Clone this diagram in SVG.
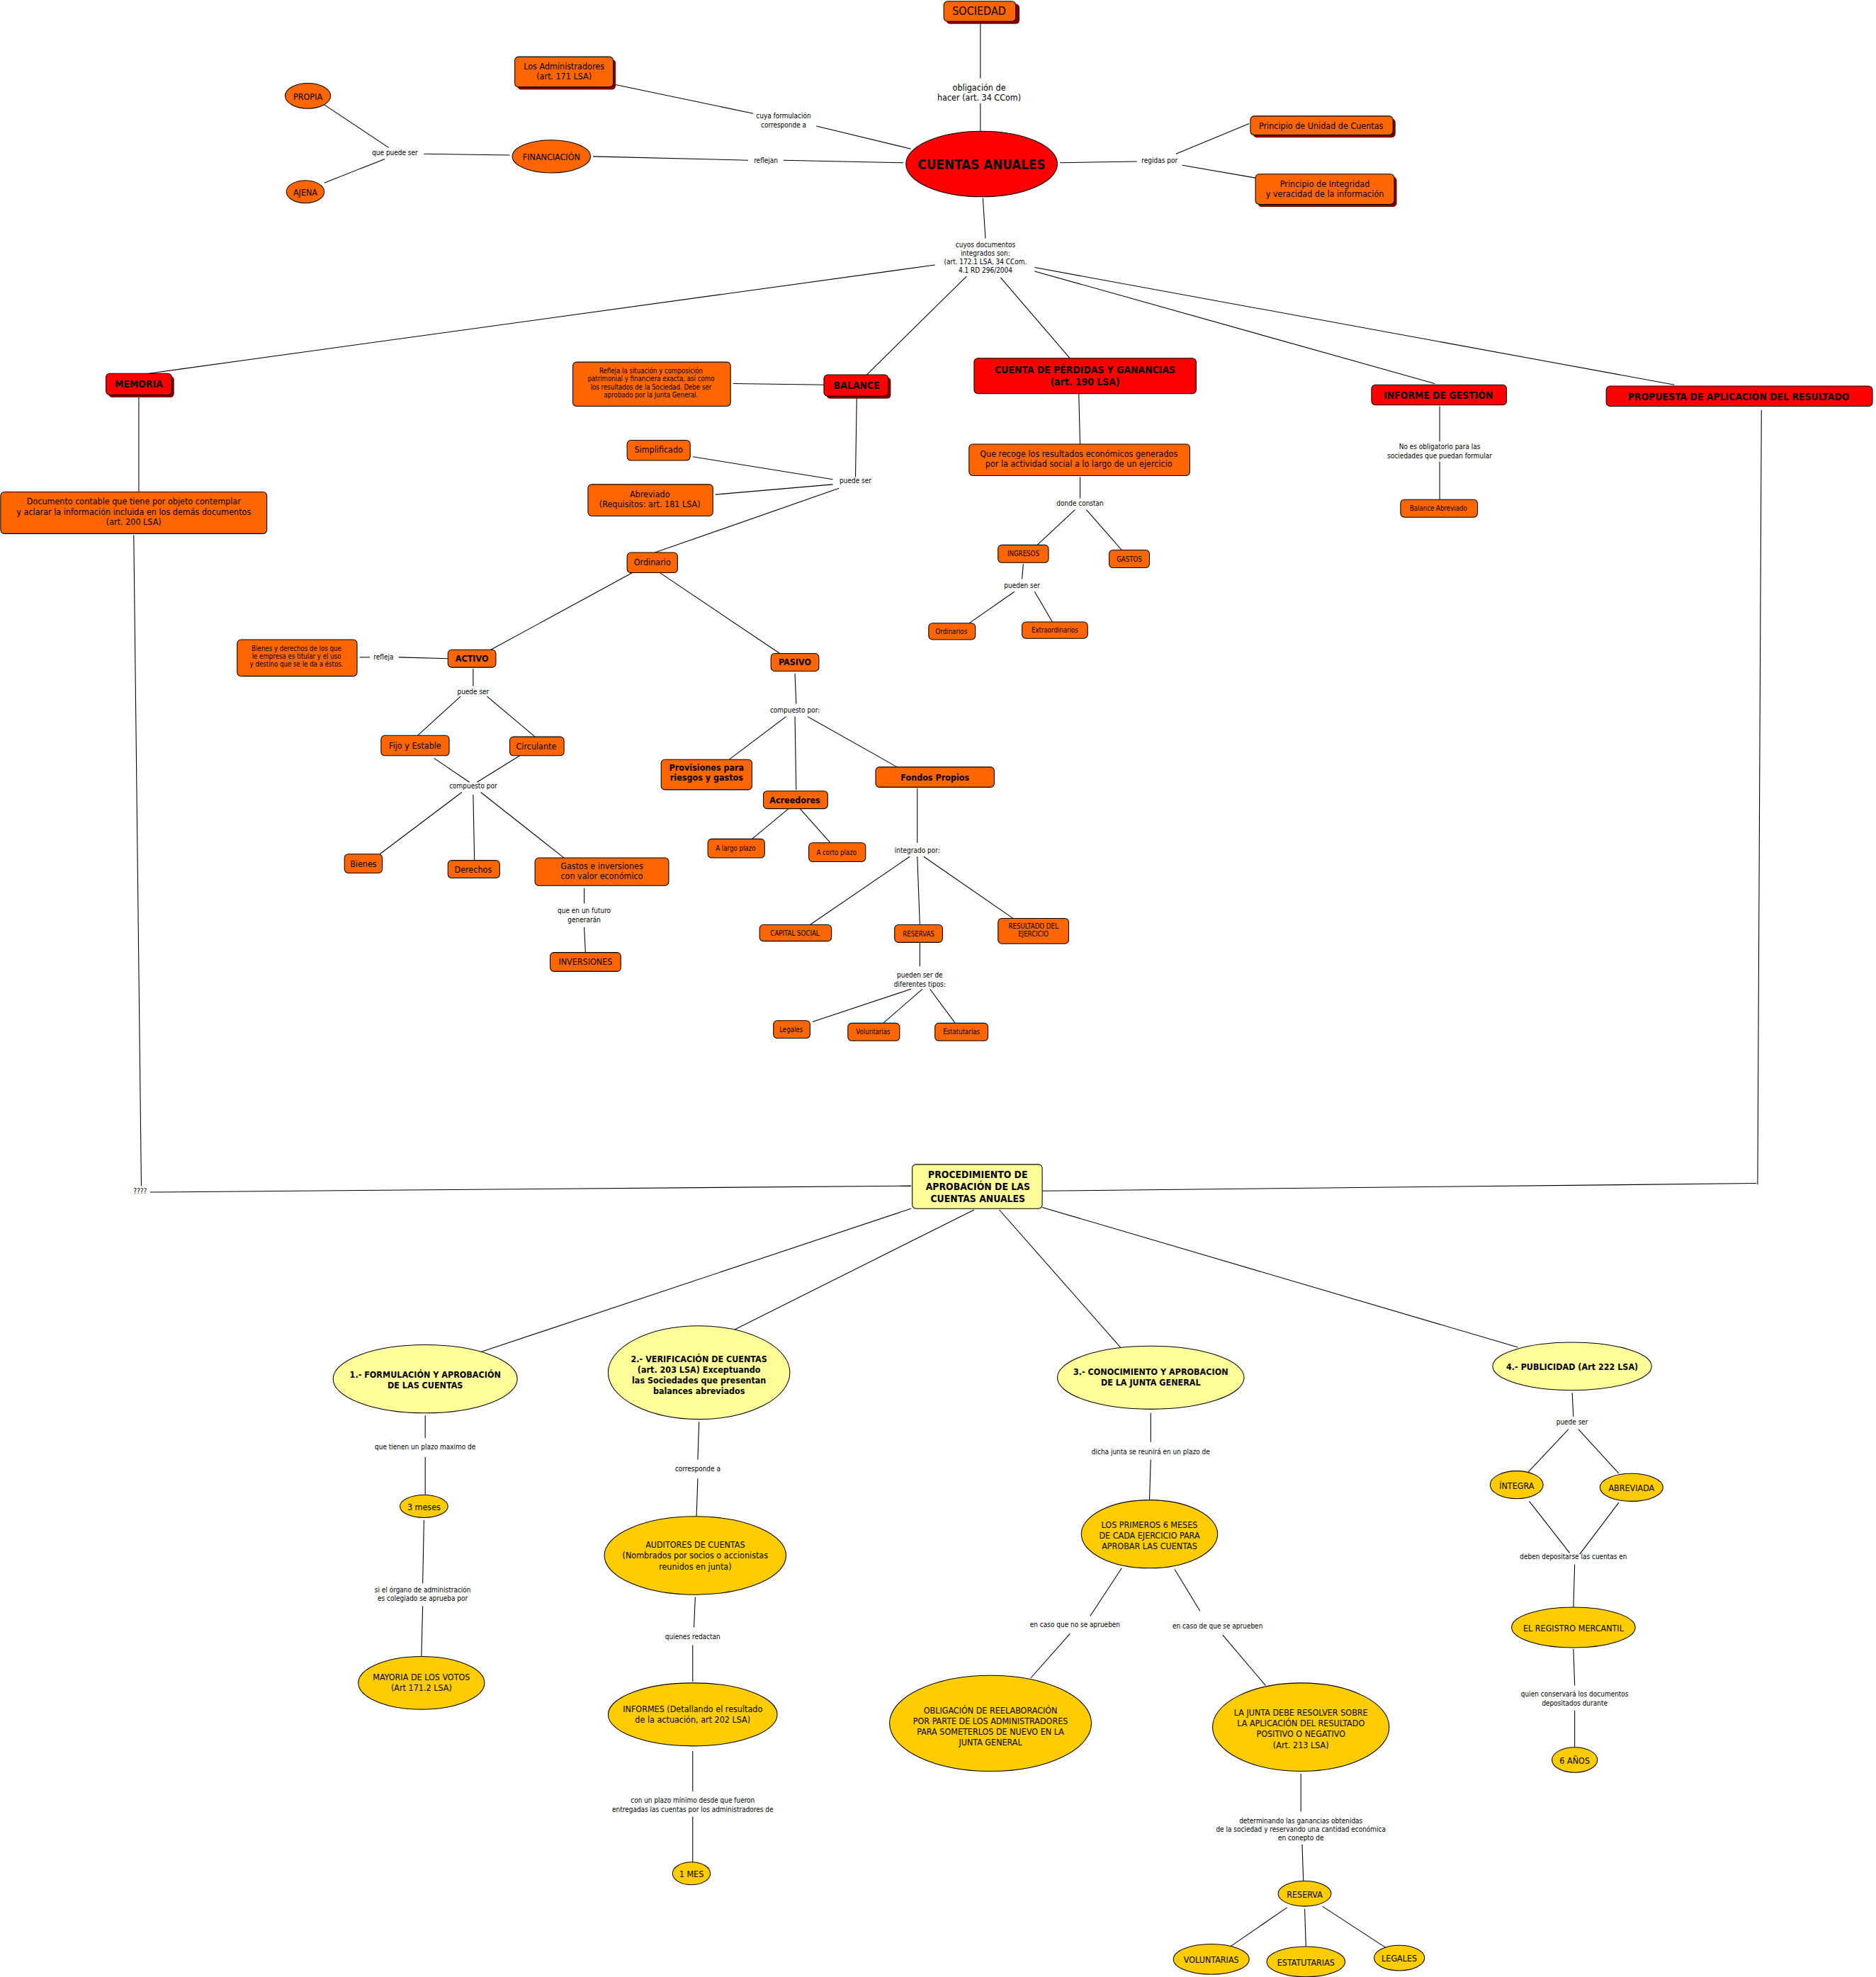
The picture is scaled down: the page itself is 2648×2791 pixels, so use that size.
<svg xmlns="http://www.w3.org/2000/svg" width="2648" height="2791" viewBox="0 0 2648 2791">
<defs>
<style>
text{font-family:"DejaVu Sans Condensed","DejaVu Sans",sans-serif;text-anchor:middle;fill:#000}
.o{fill:#ff6600;stroke:#000;stroke-width:0.6}
.r{fill:#ff0000;stroke:#000;stroke-width:0.6}
.y{fill:#ffff99;stroke:#000;stroke-width:0.6}
.g{fill:#ffcc00;stroke:#000;stroke-width:0.6}
.sh{fill:#800000}
.l{font-size:5.6px}
.n{font-size:7px}
.s{font-size:5.4px}
.b{font-weight:bold;font-size:7.8px}
.t{font-weight:bold;font-size:7px}
#conn line{stroke:#000;stroke-width:0.6}
</style>
</defs>
<rect width="2648" height="2791" fill="#fff"/>
<g transform="scale(1.781)">
<g id="conn">
<line x1="777" y1="17" x2="777" y2="62"/><line x1="777" y1="82" x2="777" y2="104"/>
<line x1="487" y1="67" x2="597" y2="90"/><line x1="647" y1="100" x2="722" y2="118"/>
<line x1="470" y1="124" x2="593" y2="127"/><line x1="621" y1="127" x2="716" y2="129"/>
<line x1="336" y1="122" x2="404" y2="123"/><line x1="257" y1="83" x2="308" y2="117"/><line x1="257" y1="145" x2="305" y2="126"/>
<line x1="840" y1="129" x2="901" y2="128"/><line x1="932" y1="122" x2="990" y2="98"/><line x1="937" y1="131" x2="995" y2="141"/>
<line x1="779" y1="157" x2="781" y2="189"/>
<line x1="741" y1="210" x2="118" y2="296"/><line x1="766" y1="219" x2="687" y2="297"/><line x1="793" y1="220" x2="848" y2="284"/>
<line x1="820" y1="215" x2="1137" y2="304"/><line x1="820" y1="212" x2="1327" y2="305"/>
<line x1="110" y1="313" x2="110" y2="390"/>
<line x1="106" y1="424" x2="112" y2="940"/><line x1="119" y1="945" x2="722" y2="940"/>
<line x1="581" y1="304" x2="653" y2="305"/>
<line x1="679" y1="315" x2="678" y2="378"/>
<line x1="549" y1="362" x2="660" y2="380"/><line x1="567" y1="392" x2="660" y2="384"/><line x1="665" y1="387" x2="519" y2="438"/>
<line x1="503" y1="453" x2="389" y2="515"/><line x1="523" y1="454" x2="618" y2="518"/>
<line x1="285" y1="521" x2="293" y2="521"/><line x1="316" y1="521" x2="355" y2="522"/>
<line x1="375" y1="530" x2="375" y2="544"/><line x1="365" y1="552" x2="331" y2="583"/><line x1="386" y1="552" x2="424" y2="584"/>
<line x1="344" y1="601" x2="372" y2="620"/><line x1="412" y1="599" x2="378" y2="620"/>
<line x1="366" y1="628" x2="301" y2="677"/><line x1="375" y1="630" x2="376" y2="682"/><line x1="381" y1="628" x2="447" y2="680"/>
<line x1="463" y1="704" x2="463" y2="716"/><line x1="463" y1="735" x2="464" y2="755"/>
<line x1="630" y1="534" x2="631" y2="558"/><line x1="623" y1="568" x2="578" y2="602"/><line x1="630" y1="568" x2="631" y2="626"/><line x1="640" y1="568" x2="711" y2="608"/>
<line x1="625" y1="641" x2="596" y2="665"/><line x1="634" y1="641" x2="658" y2="668"/>
<line x1="727" y1="625" x2="727" y2="668"/><line x1="721" y1="679" x2="642" y2="733"/><line x1="727" y1="679" x2="729" y2="733"/><line x1="732" y1="679" x2="803" y2="728"/>
<line x1="729" y1="747" x2="729" y2="766"/><line x1="722" y1="784" x2="644" y2="810"/><line x1="731" y1="784" x2="700" y2="811"/><line x1="737" y1="784" x2="757" y2="811"/>
<line x1="855" y1="312" x2="856" y2="352"/><line x1="856" y1="378" x2="856" y2="395"/>
<line x1="852" y1="404" x2="822" y2="432"/><line x1="861" y1="404" x2="889" y2="436"/>
<line x1="811" y1="447" x2="810" y2="459"/><line x1="804" y1="469" x2="768" y2="494"/><line x1="820" y1="469" x2="834" y2="493"/>
<line x1="1141" y1="322" x2="1141" y2="350"/><line x1="1141" y1="366" x2="1141" y2="396"/>
<line x1="1396" y1="325" x2="1393" y2="939"/><line x1="826" y1="944" x2="1392" y2="938"/>
<line x1="722" y1="958" x2="380" y2="1072"/><line x1="772" y1="959" x2="580" y2="1055"/><line x1="792" y1="959" x2="888" y2="1068"/><line x1="826" y1="957" x2="1203" y2="1068"/>
<line x1="337" y1="1122" x2="337" y2="1140"/><line x1="337" y1="1155" x2="337" y2="1185"/>
<line x1="336" y1="1205" x2="335" y2="1255"/><line x1="335" y1="1273" x2="334" y2="1313"/>
<line x1="554" y1="1127" x2="553" y2="1157"/><line x1="553" y1="1172" x2="552" y2="1202"/>
<line x1="551" y1="1266" x2="550" y2="1290"/><line x1="549" y1="1304" x2="549" y2="1333"/>
<line x1="549" y1="1388" x2="549" y2="1420"/><line x1="549" y1="1440" x2="549" y2="1476"/>
<line x1="912" y1="1120" x2="912" y2="1143"/><line x1="912" y1="1157" x2="911" y2="1189"/>
<line x1="889" y1="1243" x2="864" y2="1281"/><line x1="848" y1="1295" x2="817" y2="1330"/>
<line x1="931" y1="1244" x2="951" y2="1277"/><line x1="969" y1="1296" x2="1003" y2="1336"/>
<line x1="1031" y1="1406" x2="1031" y2="1436"/><line x1="1032" y1="1462" x2="1033" y2="1491"/>
<line x1="1020" y1="1512" x2="975" y2="1543"/><line x1="1034" y1="1513" x2="1035" y2="1543"/><line x1="1048" y1="1511" x2="1100" y2="1545"/>
<line x1="1246" y1="1104" x2="1247" y2="1123"/><line x1="1243" y1="1133" x2="1211" y2="1167"/><line x1="1251" y1="1133" x2="1283" y2="1168"/>
<line x1="1212" y1="1190" x2="1244" y2="1231"/><line x1="1283" y1="1191" x2="1252" y2="1232"/>
<line x1="1248" y1="1240" x2="1247" y2="1274"/><line x1="1247" y1="1307" x2="1248" y2="1336"/><line x1="1248" y1="1356" x2="1248" y2="1385"/>
</g>
<g id="labels">
<text class="n" x="776" y="72">obligación de<tspan x="776" dy="8">hacer (art. 34 CCom)</tspan></text>
<text class="l" x="621" y="94">cuya formulación<tspan x="621" dy="7">corresponde a</tspan></text>
<text class="l" x="607" y="129">reflejan</text>
<text class="l" x="313" y="123">que puede ser</text>
<text class="l" x="919" y="129">regidas por</text>
<text class="l" x="781" y="196">cuyos documentos<tspan x="781" dy="6.7">integrados son:</tspan><tspan x="781" dy="6.7">(art. 172.1 LSA, 34 CCom.</tspan><tspan x="781" dy="6.7">4.1 RD 296/2004</tspan></text>
<text class="l" x="111" y="946">????</text>
<text class="l" x="678" y="383">puede ser</text>
<text class="l" x="304" y="523">refleja</text>
<text class="l" x="375" y="550">puede ser</text>
<text class="l" x="375" y="625">compuesto por</text>
<text class="l" x="463" y="724">que en un futuro<tspan x="463" dy="7">generarán</tspan></text>
<text class="l" x="630" y="565">compuesto por:</text>
<text class="l" x="727" y="676">integrado por:</text>
<text class="l" x="729" y="775">pueden ser de<tspan x="729" dy="7">diferentes tipos:</tspan></text>
<text class="l" x="856" y="401">donde constan</text>
<text class="l" x="810" y="466">pueden ser</text>
<text class="l" x="1141" y="356">No es obligatorio para las<tspan x="1141" dy="7">sociedades que puedan formular</tspan></text>
<text class="l" x="337" y="1149">que tienen un plazo maximo de</text>
<text class="l" x="335" y="1262">si el órgano de administración<tspan x="335" dy="7">es colegiado se aprueba por</tspan></text>
<text class="l" x="553" y="1166">corresponde a</text>
<text class="l" x="549" y="1299">quienes redactan</text>
<text class="l" x="549" y="1429">con un plazo mínimo desde que fueron<tspan x="549" dy="7">entregadas las cuentas por los administradores de</tspan></text>
<text class="l" x="912" y="1153">dicha junta se reunirá en un plazo de</text>
<text class="l" x="852" y="1290">en caso que no se aprueben</text>
<text class="l" x="965" y="1291">en caso de que se aprueben</text>
<text class="l" x="1031" y="1445">determinando las ganancias obtenidas<tspan x="1031" dy="7">de la sociedad y reservando una cantidad económica</tspan><tspan x="1031" dy="7">en conepto de</tspan></text>
<text class="l" x="1246" y="1129">puede ser</text>
<text class="l" x="1247" y="1236">deben depositarse las cuentas en</text>
<text class="l" x="1248" y="1345">quien conservará los documentos<tspan x="1248" dy="7">depositados durante</tspan></text>
</g>
<g id="sociedad"><rect class="sh" x="750" y="3" width="58" height="16" rx="3"/><rect class="o" x="748" y="1" width="57" height="16" rx="3"/><text x="776" y="12" style="font-size:9px">SOCIEDAD</text></g>
<g id="cuentas"><ellipse class="r" cx="778" cy="130" rx="60" ry="26"/><text x="778" y="134" style="font-weight:bold;font-size:10.5px">CUENTAS ANUALES</text></g>
<g id="admin"><rect class="sh" x="410" y="47" width="78" height="24" rx="3"/><rect class="o" x="408" y="45" width="78" height="24" rx="3"/><text class="n" x="447" y="55">Los Administradores<tspan x="447" dy="8">(art. 171 LSA)</tspan></text></g>
<g id="financiacion"><ellipse class="o" cx="437" cy="124" rx="31" ry="13"/><text class="n" x="437" y="127">FINANCIACIÓN</text></g>
<g id="propia"><ellipse class="o" cx="244" cy="76" rx="18" ry="10"/><text class="n" x="244" y="79">PROPIA</text></g>
<g id="ajena"><ellipse class="o" cx="242" cy="152" rx="15" ry="9"/><text class="n" x="242" y="155">AJENA</text></g>
<g id="unidad"><rect class="sh" x="993" y="94" width="113" height="15" rx="3"/><rect class="o" x="991" y="92" width="113" height="15" rx="3"/><text class="n" x="1047" y="102">Principio de Unidad de Cuentas</text></g>
<g id="integridad"><rect class="sh" x="997" y="140" width="110" height="24" rx="3"/><rect class="o" x="995" y="138" width="110" height="24" rx="3"/><text class="n" x="1050" y="148">Principio de Integridad<tspan x="1050" dy="8">y veracidad de la información</tspan></text></g>
<g id="memoria"><rect class="sh" x="86" y="298" width="52" height="17" rx="3"/><rect class="r" x="84" y="296" width="52" height="17" rx="3"/><text class="b" x="110" y="307">MEMORIA</text></g>
<g id="documento"><rect class="o" x="0.5" y="390" width="211" height="33" rx="3"/><text class="n" x="106" y="400">Documento contable que tiene por objeto contemplar<tspan x="106" dy="8">y aclarar la información incluida en los demás documentos</tspan><tspan x="106" dy="8">(art. 200 LSA)</tspan></text></g>
<g id="balance"><rect class="sh" x="655" y="299" width="51" height="17" rx="3"/><rect class="r" x="653" y="297" width="51" height="17" rx="3"/><text class="b" x="679" y="308">BALANCE</text></g>
<g id="refleja"><rect class="o" x="454" y="287" width="125" height="35" rx="3"/><text class="s" x="516" y="296">Refleja la situación y composición<tspan x="516" dy="6.3">patrimonial y financiera exacta, así como</tspan><tspan x="516" dy="6.3">los resultados de la Sociedad. Debe ser</tspan><tspan x="516" dy="6.3">aprobado por la Junta General.</tspan></text></g>
<g id="simplificado"><rect class="o" x="497" y="349" width="50" height="16" rx="3"/><text class="n" x="522" y="359">Simplificado</text></g>
<g id="abreviado"><rect class="o" x="466" y="384" width="99" height="25" rx="3"/><text class="n" x="515" y="394">Abreviado<tspan x="515" dy="8">(Requisitos: art. 181 LSA)</tspan></text></g>
<g id="ordinario"><rect class="o" x="497" y="438" width="40" height="16" rx="3"/><text class="n" x="517" y="448">Ordinario</text></g>
<g id="activo"><rect class="o" x="355" y="515" width="38" height="14" rx="3"/><text class="t" x="374" y="524.5">ACTIVO</text></g>
<g id="bienesderechos"><rect class="o" x="188" y="507" width="95" height="29" rx="3"/><text class="s" x="235" y="516">Bienes y derechos de los que<tspan x="235" dy="6.3">le empresa es titular y el uso</tspan><tspan x="235" dy="6.3">y destino que se le da a éstos.</tspan></text></g>
<g id="fijo"><rect class="o" x="302" y="583" width="54" height="16" rx="3"/><text class="n" x="329" y="593.5">Fijo y Estable</text></g>
<g id="circulante"><rect class="o" x="404" y="584" width="43" height="15" rx="3"/><text class="n" x="425" y="594">Circulante</text></g>
<g id="bienes"><rect class="o" x="273" y="677" width="30" height="15" rx="3"/><text class="n" x="288" y="687">Bienes</text></g>
<g id="derechos"><rect class="o" x="355" y="682" width="41" height="14" rx="3"/><text class="n" x="375" y="692">Derechos</text></g>
<g id="gastosinv"><rect class="o" x="424" y="680" width="106" height="22" rx="3"/><text class="n" x="477" y="689">Gastos e inversiones<tspan x="477" dy="8">con valor económico</tspan></text></g>
<g id="inversiones"><rect class="o" x="436" y="755" width="56" height="15" rx="3"/><text class="n" x="464" y="765">INVERSIONES</text></g>
<g id="pasivo"><rect class="o" x="611" y="518" width="38" height="14" rx="3"/><text class="t" x="630" y="527.5">PASIVO</text></g>
<g id="provisiones"><rect class="o" x="524" y="602" width="72" height="24" rx="3"/><text class="t" x="560" y="611">Provisiones para<tspan x="560" dy="8">riesgos y gastos</tspan></text></g>
<g id="acreedores"><rect class="o" x="605" y="627" width="51" height="14" rx="3"/><text class="t" x="630" y="636.5">Acreedores</text></g>
<g id="fondos"><rect class="o" x="694" y="608" width="94" height="16" rx="3"/><text class="t" x="741" y="618.5">Fondos Propios</text></g>
<g id="largo"><rect class="o" x="561" y="665" width="45" height="15" rx="3"/><text class="s" x="583" y="674.5">A largo plazo</text></g>
<g id="corto"><rect class="o" x="641" y="668" width="45" height="15" rx="3"/><text class="s" x="663" y="677.5">A corto plazo</text></g>
<g id="capital"><rect class="o" x="602" y="733" width="57" height="13" rx="3"/><text class="s" x="630" y="741.5">CAPITAL SOCIAL</text></g>
<g id="reservas"><rect class="o" x="709" y="733" width="38" height="14" rx="3"/><text class="s" x="728" y="742">RESERVAS</text></g>
<g id="resultado"><rect class="o" x="791" y="728" width="56" height="20" rx="3"/><text class="s" x="819" y="736">RESULTADO DEL<tspan x="819" dy="6.5">EJERCICIO</tspan></text></g>
<g id="legales"><rect class="o" x="613" y="809" width="29" height="14" rx="3"/><text class="s" x="627" y="818">Legales</text></g>
<g id="voluntarias"><rect class="o" x="672" y="811" width="41" height="14" rx="3"/><text class="s" x="692" y="820">Voluntarias</text></g>
<g id="estatutarias"><rect class="o" x="741" y="811" width="42" height="14" rx="3"/><text class="s" x="762" y="820">Estatutarias</text></g>
<g id="perdidas"><rect class="r" x="772" y="284" width="176" height="28" rx="3"/><text class="b" x="860" y="296">CUENTA DE PÉRDIDAS Y GANANCIAS<tspan x="860" dy="9.5">(art. 190 LSA)</tspan></text></g>
<g id="recoge"><rect class="o" x="768" y="352" width="175" height="25" rx="3"/><text class="n" x="855" y="362">Que recoge los resultados económicos generados<tspan x="855" dy="8">por la actividad social a lo largo de un ejercicio</tspan></text></g>
<g id="ingresos"><rect class="o" x="791" y="432" width="40" height="14" rx="3"/><text class="s" x="811" y="441">INGRESOS</text></g>
<g id="gastos"><rect class="o" x="879" y="436" width="32" height="14" rx="3"/><text class="s" x="895" y="445">GASTOS</text></g>
<g id="ordinarios"><rect class="o" x="736" y="494" width="37" height="13" rx="3"/><text class="s" x="754" y="502.5">Ordinarios</text></g>
<g id="extraordinarios"><rect class="o" x="810" y="493" width="52" height="13" rx="3"/><text class="s" x="836" y="501.5">Extraordinarios</text></g>
<g id="informe"><rect class="r" x="1087" y="305" width="107" height="16" rx="3"/><text class="b" x="1140" y="316">INFORME DE GESTIÓN</text></g>
<g id="balabrev"><rect class="o" x="1110" y="396" width="61" height="14" rx="3"/><text class="s" x="1140" y="405">Balance Abreviado</text></g>
<g id="propuesta"><rect class="r" x="1273" y="306" width="211" height="16" rx="3"/><text class="b" x="1378" y="317">PROPUESTA DE APLICACIÓN DEL RESULTADO</text></g>
<g id="procedimiento"><rect class="y" x="723" y="923" width="103" height="35" rx="3"/><text class="b" x="775" y="934">PROCEDIMIENTO DE<tspan x="775" dy="9.5">APROBACIÓN DE LAS</tspan><tspan x="775" dy="9.5">CUENTAS ANUALES</tspan></text></g>
<g id="paso1"><ellipse class="y" cx="337" cy="1093" rx="73" ry="27"/><text class="t" x="337" y="1092">1.- FORMULACIÓN Y APROBACIÓN<tspan x="337" dy="8.5">DE LAS CUENTAS</tspan></text></g>
<g id="tresmeses"><ellipse class="g" cx="336" cy="1194" rx="19" ry="9"/><text class="n" x="336" y="1197">3 meses</text></g>
<g id="mayoria"><ellipse class="g" cx="334" cy="1334" rx="50" ry="21"/><text class="n" x="334" y="1332">MAYORIA DE LOS VOTOS<tspan x="334" dy="8.5">(Art 171.2 LSA)</tspan></text></g>
<g id="paso2"><ellipse class="y" cx="554" cy="1088" rx="72" ry="37"/><text class="t" x="554" y="1080">2.- VERIFICACIÓN DE CUENTAS<tspan x="554" dy="8.3">(art. 203 LSA) Exceptuando</tspan><tspan x="554" dy="8.3">las Sociedades que presentan</tspan><tspan x="554" dy="8.3">balances abreviados</tspan></text></g>
<g id="auditores"><ellipse class="g" cx="551" cy="1233" rx="72" ry="31"/><text class="n" x="551" y="1227">AUDITORES DE CUENTAS<tspan x="551" dy="8.5">(Nombrados por socios o accionistas</tspan><tspan x="551" dy="8.5">reunidos en junta)</tspan></text></g>
<g id="informes"><ellipse class="g" cx="549" cy="1359" rx="67" ry="25"/><text class="n" x="549" y="1357">INFORMES (Detallando el resultado<tspan x="549" dy="8.5">de la actuación, art 202 LSA)</tspan></text></g>
<g id="unmes"><ellipse class="g" cx="548" cy="1485" rx="15" ry="9"/><text class="n" x="548" y="1488">1 MES</text></g>
<g id="paso3"><ellipse class="y" cx="912" cy="1092" rx="74" ry="25"/><text class="t" x="912" y="1090">3.- CONOCIMIENTO Y APROBACION<tspan x="912" dy="8.5">DE LA JUNTA GENERAL</tspan></text></g>
<g id="primeros"><ellipse class="g" cx="911" cy="1216" rx="54" ry="27"/><text class="n" x="911" y="1211">LOS PRIMEROS 6 MESES<tspan x="911" dy="8.5">DE CADA EJERCICIO PARA</tspan><tspan x="911" dy="8.5">APROBAR LAS CUENTAS</tspan></text></g>
<g id="obligacion"><ellipse class="g" cx="785" cy="1366" rx="80" ry="38"/><text class="n" x="785" y="1358">OBLIGACIÓN DE REELABORACIÓN<tspan x="785" dy="8.5">POR PARTE DE LOS ADMINISTRADORES</tspan><tspan x="785" dy="8.5">PARA SOMETERLOS DE NUEVO EN LA</tspan><tspan x="785" dy="8.5">JUNTA GENERAL</tspan></text></g>
<g id="lajunta"><ellipse class="g" cx="1031" cy="1369" rx="70" ry="35"/><text class="n" x="1031" y="1360">LA JUNTA DEBE RESOLVER SOBRE<tspan x="1031" dy="8.5">LA APLICACIÓN DEL RESULTADO</tspan><tspan x="1031" dy="8.5">POSITIVO O NEGATIVO</tspan><tspan x="1031" dy="8.5">(Art. 213 LSA)</tspan></text></g>
<g id="reserva"><ellipse class="g" cx="1034" cy="1501" rx="21" ry="10"/><text class="n" x="1034" y="1504">RESERVA</text></g>
<g id="voluntarias2"><ellipse class="g" cx="960" cy="1553" rx="30" ry="12"/><text class="n" x="960" y="1556">VOLUNTARIAS</text></g>
<g id="estatutarias2"><ellipse class="g" cx="1035" cy="1555" rx="31" ry="12"/><text class="n" x="1035" y="1558">ESTATUTARIAS</text></g>
<g id="legales2"><ellipse class="g" cx="1109" cy="1552" rx="20" ry="10"/><text class="n" x="1109" y="1555">LEGALES</text></g>
<g id="paso4"><ellipse class="y" cx="1246" cy="1083" rx="63" ry="19"/><text class="t" x="1246" y="1086">4.- PUBLICIDAD (Art 222 LSA)</text></g>
<g id="integra"><ellipse class="g" cx="1202" cy="1177" rx="21" ry="11"/><text class="n" x="1202" y="1180">ÍNTEGRA</text></g>
<g id="abreviada"><ellipse class="g" cx="1293" cy="1179" rx="25" ry="11"/><text class="n" x="1293" y="1182">ABREVIADA</text></g>
<g id="registro"><ellipse class="g" cx="1247" cy="1290" rx="49" ry="16"/><text class="n" x="1247" y="1293">EL REGISTRO MERCANTIL</text></g>
<g id="seisanos"><ellipse class="g" cx="1248" cy="1395" rx="18" ry="10"/><text class="n" x="1248" y="1398">6 AÑOS</text></g>
</g>
</svg>
